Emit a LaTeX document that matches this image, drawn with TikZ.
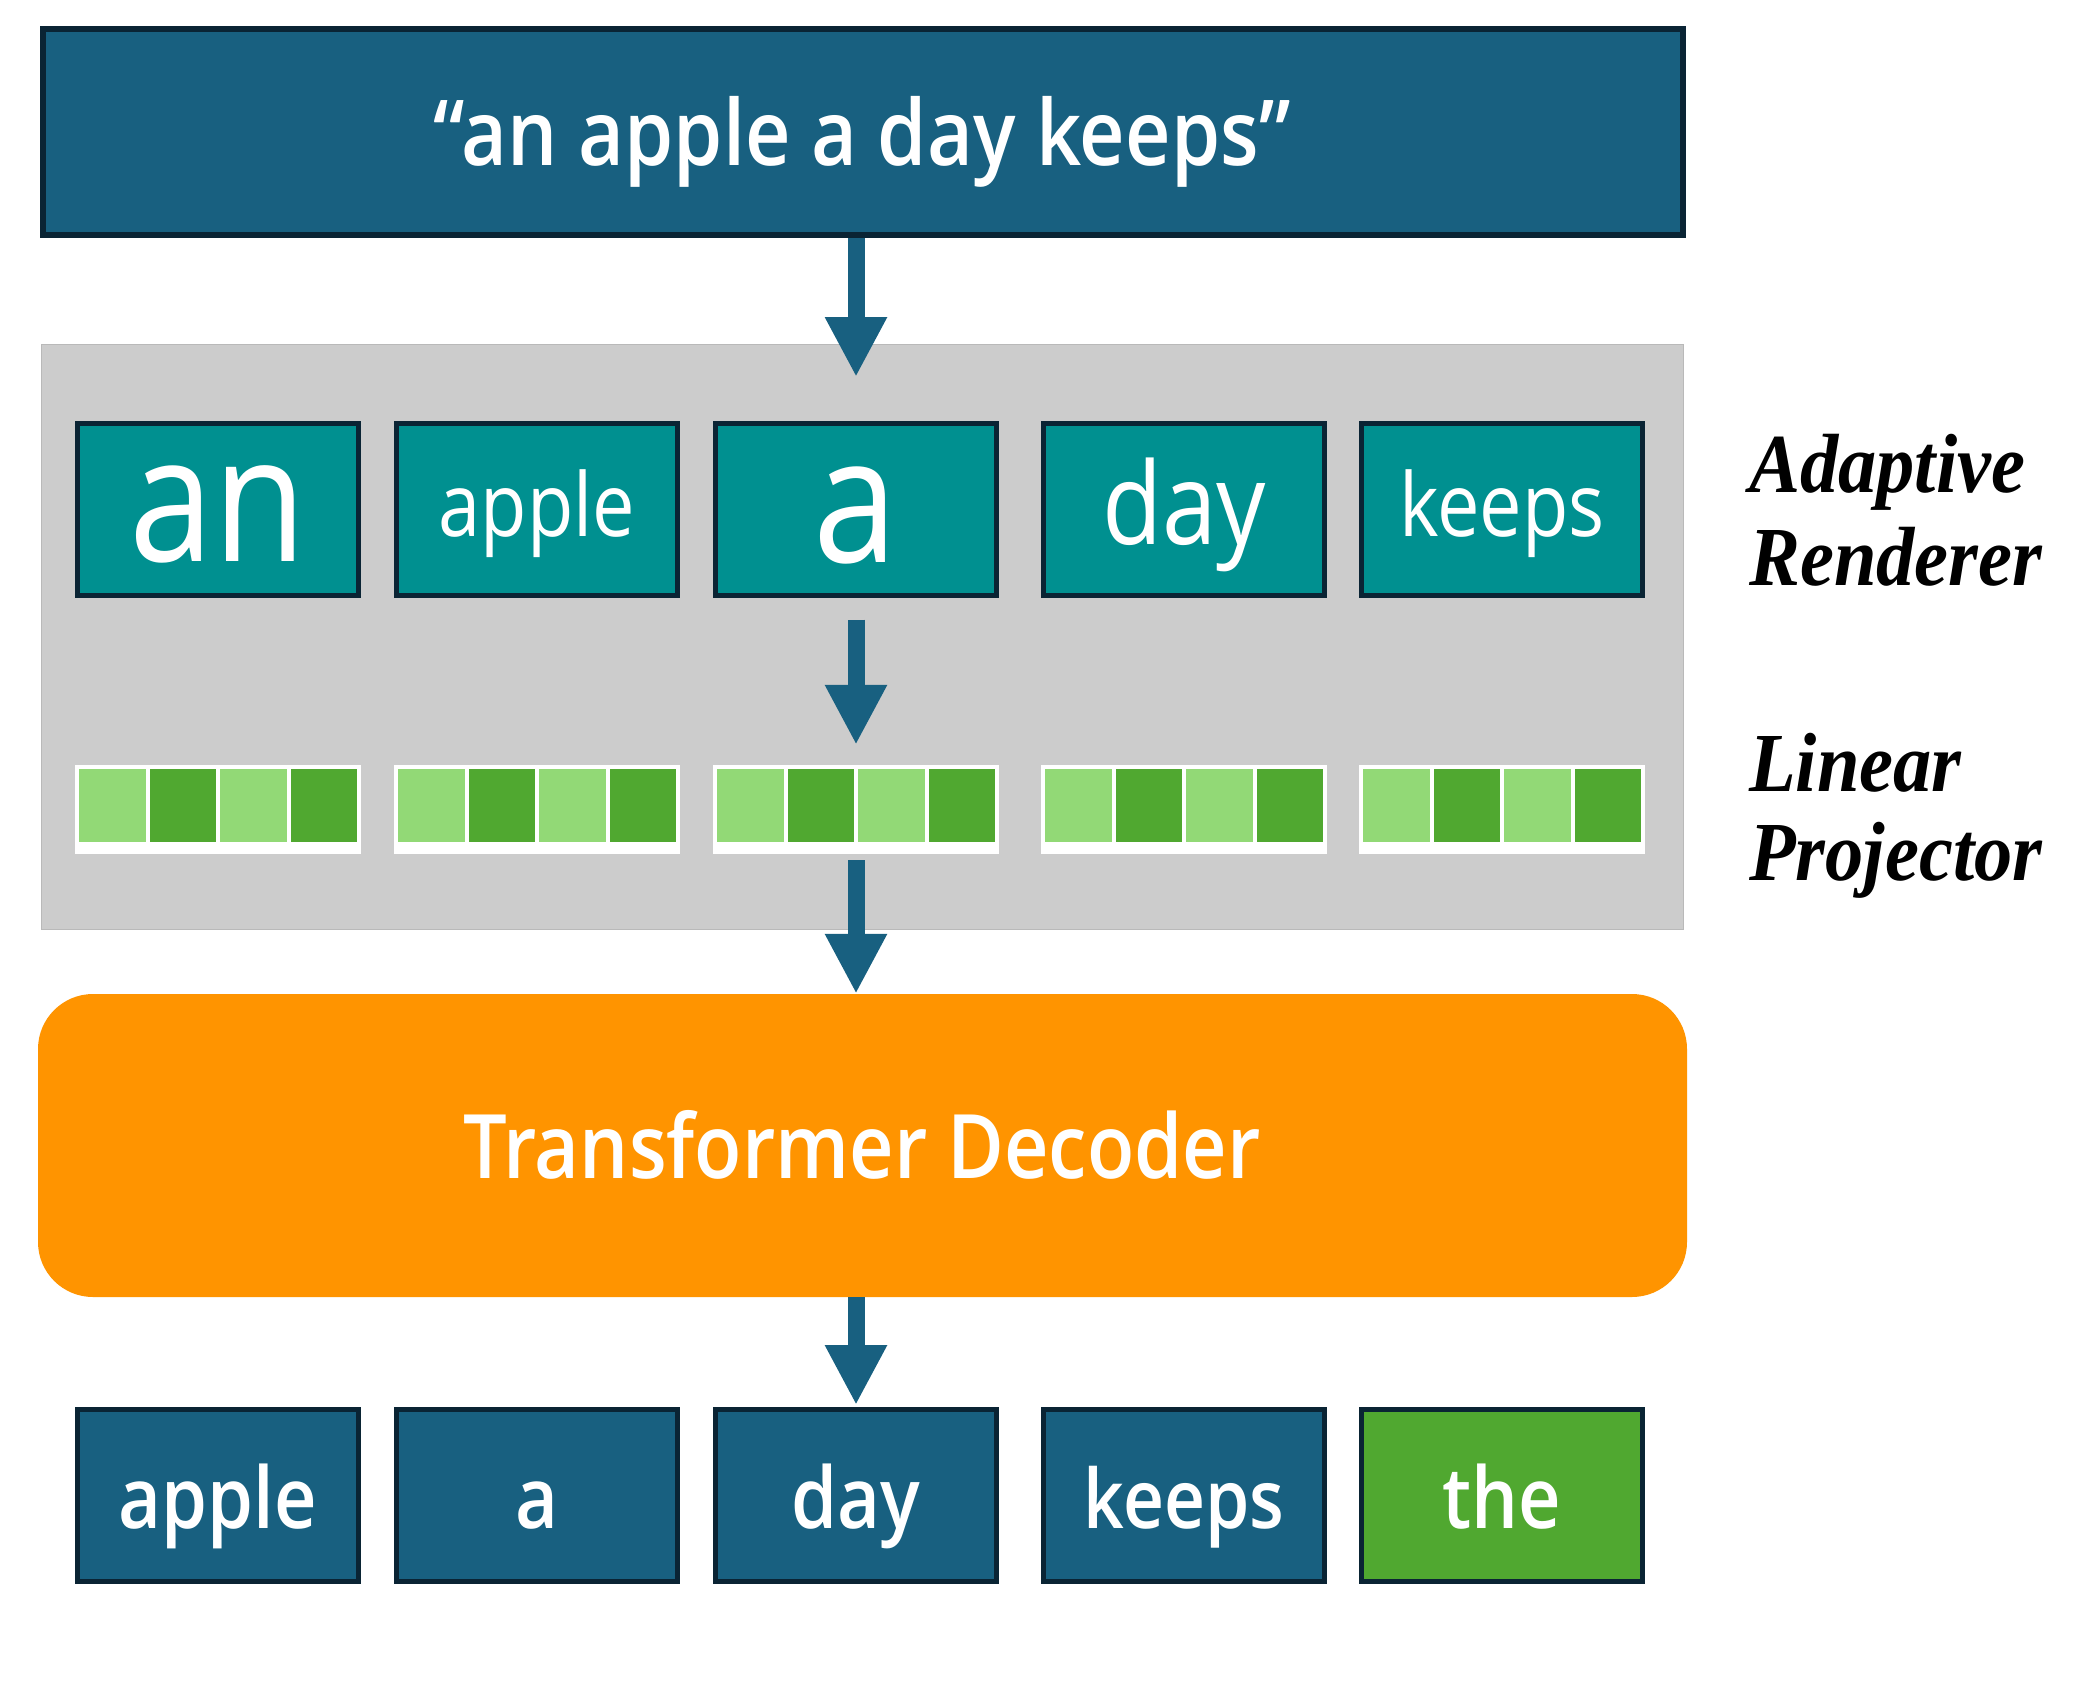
\documentclass[tikz,border=0pt]{standalone}
\usepackage{fontspec}
\usetikzlibrary{arrows.meta}
\newfontfamily\osf{Open Sans}[FakeStretch=0.86]
\newfontfamily\osfsb{Open Sans}[UprightFont=* Semibold, FakeStretch=0.87]
\newfontfamily\labf{Liberation Serif}[FakeStretch=0.91]
\newcommand{\myfs}[1]{\fontsize{#1}{#1}\selectfont}
\definecolor{tblue}{RGB}{24,96,128}
\definecolor{tborder}{RGB}{10,36,52}
\definecolor{tteal}{RGB}{0,144,144}
\definecolor{lgreen}{RGB}{146,217,118}
\definecolor{dgreen}{RGB}{80,168,48}
\definecolor{torange}{RGB}{255,148,0}
\definecolor{tgrey}{RGB}{204,204,204}
\definecolor{tgreyb}{RGB}{185,185,185}
\begin{document}
\begin{tikzpicture}[x=1pt,y=-1pt,
  box/.style={draw=tborder, line width=5pt, minimum width=281pt, minimum height=172pt, inner sep=0pt},
  tealbox/.style={box, fill=tteal},
  bluebox/.style={box, fill=tblue},
  greenbox/.style={box, fill=dgreen},
  strip/.style={fill=white, minimum width=286pt, minimum height=89pt, inner sep=0pt},
  wtxt/.style={text=white, anchor=base, inner sep=0pt},
  reg/.style={wtxt, font={\osf\myfs{#1}}},
  bold/.style={wtxt, font={\osfsb\myfs{#1}}},
  lab/.style={anchor=base west, inner sep=0pt, font={\labf\bfseries\itshape\myfs{84}}},
  arr/.style={draw=tblue, line width=17pt, -{Triangle[length=60pt,width=58pt]}}
]
\useasboundingbox (0,0) rectangle (2075,1683);

% grey panel
\node[fill=tgrey, draw=tgreyb, line width=1pt, minimum width=1642pt, minimum height=585pt, inner sep=0pt] (grey) at (862,636.5) {};

% top input box
\node[draw=tborder, fill=tblue, line width=6pt, minimum width=1640pt, minimum height=206pt, inner sep=0pt] (top) at (863,132) {};
\node[bold=91] (toptxt) at (862,165) {“an apple a day keeps”};

% rendered word boxes
\foreach \i/\cx in {1/218,2/537,3/856,4/1184,5/1502}{
  \node[tealbox] (t\i) at (\cx,509.5) {};
  \node[strip] (s\i) at (\cx,809.5) {};
  \foreach \k/\c in {0/lgreen,1/dgreen,2/lgreen,3/dgreen}
    \fill[\c] (\cx-139+\k*70.5,769) rectangle ++(66.5,73);
}
\node[reg=176] (t1txt) at (218,561) {an};
\node[reg=88]  (t2txt) at (537,536) {apple};
\node[reg=176] (t3txt) at (856,562) {a};
\node[reg=114] (t4txt) at (1184,544) {day};
\node[reg=88]  (t5txt) at (1502,536) {keeps};

% decoder
\node[fill=torange, rounded corners=55pt, minimum width=1649pt, minimum height=303pt, inner sep=0pt] (dec) at (862.5,1145.5) {};
\node[bold=89] (dectxt) at (862,1178) {Transformer Decoder};

% output boxes
\node[bluebox]  (b1) at (218,1495.5) {};
\node[bluebox]  (b2) at (537,1495.5) {};
\node[bluebox]  (b3) at (856,1495.5) {};
\node[bluebox]  (b4) at (1184,1495.5) {};
\node[greenbox] (b5) at (1502,1495.5) {};
\node[bold=85] (b1txt) at (218,1528) {apple};
\node[bold=85] (b2txt) at (537,1528) {a};
\node[bold=85] (b3txt) at (856,1528) {day};
\node[bold=82] (b4txt) at (1184,1528) {keeps};
\node[bold=85] (b5txt) at (1502,1528) {the};

% side labels
\node[lab] (l1) at (1749,492) {Adaptive};
\node[lab] (l2) at (1749,585) {Renderer};
\node[lab] (l3) at (1749,791) {Linear};
\node[lab] (l4) at (1749,880) {Projector};

% arrows
\coordinate (a1end) at (856,377);
\draw[arr] (top.south -| t3.center) -- (a1end);
\draw[arr] ([yshift=-21.5pt]t3.south) -- ([yshift=20pt]s3.north);
\draw[arr] ([yshift=-6pt]s3.south) -- (dec.north -| s3.center);
\draw[arr] (dec.south -| b3.center) -- ([yshift=2pt]b3.north);
\end{tikzpicture}
\end{document}
